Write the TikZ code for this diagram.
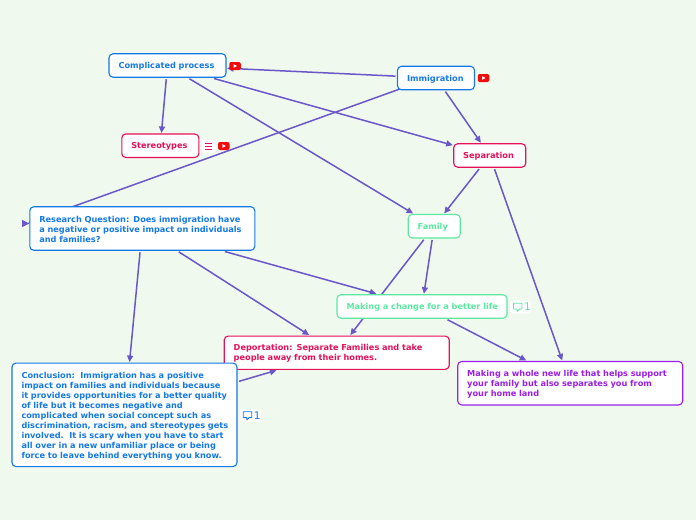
\documentclass[tikz,border=0pt]{standalone}
\usepackage{fontspec}
\setmainfont{DejaVu Sans}
\usetikzlibrary{arrows.meta}
\pgfdeclarelayer{bg}
\pgfsetlayers{bg,main}
\definecolor{canvas}{HTML}{EFF9EE}
\definecolor{edge}{HTML}{6A57C8}
\definecolor{cblue}{HTML}{1479E6}
\definecolor{cred}{HTML}{E6105A}
\definecolor{cgreen}{HTML}{5CE8A0}
\definecolor{cpurple}{HTML}{9A1FEA}
\definecolor{ytred}{HTML}{F50A0A}
\newcommand{\nohyphens}{\hyphenpenalty=10000\relax}
\tikzset{
  topic/.style={draw=#1,text=#1,fill=white,line width=1.1pt,rounded corners=4pt,
    inner xsep=9.5pt,inner ysep=0pt,outer sep=1pt,align=left,anchor=center,
    font=\bfseries\fontsize{8.2}{10}\selectfont\nohyphens,
    execute at begin node={\rule[-2.2pt]{0pt}{10.5pt}}},
  link/.style={draw=edge,line width=1.5pt,-{Triangle[length=6.5pt,width=6pt]},shorten <=1pt},
  plainlink/.style={draw=edge,line width=1.5pt},
  yt/.style={fill=ytred,rounded corners=2pt,minimum width=11.5pt,minimum height=8pt,inner sep=0pt},
  chip/.style={fill=white,rounded corners=2pt,inner sep=0pt},
  count/.style={font=\fontsize{10.5}{11}\selectfont,inner sep=0pt}
}
\newcommand{\playmark}[1]{\fill[white] ([xshift=-1.5pt,yshift=1.8pt]#1.center) -- ([xshift=2pt]#1.center) -- ([xshift=-1.5pt,yshift=-1.8pt]#1.center) -- cycle;}
\newcommand{\bubble}[2]{\draw[#2,line width=.8pt,line join=round] ([xshift=-7pt,yshift=3.7pt]#1.center) -- ([xshift=1.5pt,yshift=3.7pt]#1.center) -- ([xshift=1.5pt,yshift=-2pt]#1.center) -- ([xshift=-1pt,yshift=-2pt]#1.center) -- ([xshift=-3.5pt,yshift=-4.5pt]#1.center) -- ([xshift=-3.5pt,yshift=-2pt]#1.center) -- ([xshift=-7pt,yshift=-2pt]#1.center) -- cycle;}
\begin{document}
\begin{tikzpicture}[x=1pt,y=-1pt]
\useasboundingbox (0,0) rectangle (696,520);

\node[topic=cblue,text width=98pt,minimum height=23.5pt] (complicated) at (167.5,65.5) {Complicated process};
\node[topic=cred,text width=58pt,minimum height=23.5pt] (stereotypes) at (160.3,145.7) {Stereotypes};
\node[topic=cblue,text width=58pt,minimum height=23.5pt] (immigration) at (436,78) {Immigration};
\node[topic=cred,text width=53pt,minimum height=23.5pt] (separation) at (489.7,155.5) {Separation};
\node[topic=cblue,text width=206pt,minimum height=43.5pt] (question) at (142.3,228.5) {Research Question: Does immigration have\\a negative or positive impact on individuals\\and families?};
\node[topic=cgreen,text width=33pt,minimum height=23.5pt] (family) at (434.2,226.2) {Family};
\node[topic=cgreen,text width=151pt,minimum height=23.5pt] (change) at (422,306.5) {\mbox{Making a change for a better life}};
\node[topic=cred,text width=206pt,minimum height=33.3pt] (deportation) at (336.7,352.7) {Deportation: Separate Families and take\\people away from their homes.};
\node[topic=cpurple,text width=206pt,minimum height=43.5pt] (newlife) at (570.2,383.2) {Making a whole new life that helps support\\your family but also separates you from\\your home land};
\node[topic=cblue,text width=206pt,minimum height=103.5pt] (conclusion) at (124.5,414.8) {Conclusion:\ \ Immigration has a positive\\impact on families and individuals because\\it provides opportunities for a better quality\\of life but it becomes negative and\\complicated when social concept such as\\\mbox{discrimination, racism, and stereotypes gets}\\involved.\ \ It is scary when you have to start\\all over in a new unfamiliar place or being\\force to leave behind everything you know.};

\coordinate (questiontail) at (22,223.5);

% icons
\node[yt] (ytcomplicated) at (235,66) {};
\playmark{ytcomplicated}
\node[yt] (ytimmigration) at (483.5,78) {};
\playmark{ytimmigration}
\node[yt] (ytstereotypes) at (223.8,146) {};
\playmark{ytstereotypes}
\node[chip,minimum width=13.5pt,minimum height=12.5pt] (notes) at (208.5,146.3) {};
\draw[cred,line width=.8pt] ([xshift=-3.4pt,yshift=-3.4pt]notes.center) -- ([xshift=3.4pt,yshift=-3.4pt]notes.center)
  ([xshift=-3.4pt]notes.center) -- ([xshift=3.4pt]notes.center)
  ([xshift=-3.4pt,yshift=3.4pt]notes.center) -- ([xshift=3.4pt,yshift=3.4pt]notes.center);

\node[chip,minimum width=20.5pt,minimum height=12.5pt] (chipchange) at (520.5,307) {};
\bubble{chipchange}{cgreen}
\node[count,text=cgreen] (countchange) at ([xshift=7pt]chipchange.center) {1};
\node[chip,minimum width=20.5pt,minimum height=12.5pt] (chipconclusion) at (250.3,415.5) {};
\bubble{chipconclusion}{cblue}
\node[count,text=cblue] (countconclusion) at ([xshift=7pt]chipconclusion.center) {1};

\begin{pgfonlayer}{bg}
\fill[canvas] (0,0) rectangle (696,520);
\draw[link] (immigration) -- (complicated);
\draw[link] (complicated) -- (stereotypes);
\draw[link] (complicated) -- (separation);
\draw[link] (complicated) -- (family);
\draw[link] (immigration) -- (separation);
\draw[plainlink] ([yshift=2pt]immigration.center) -- ([yshift=6pt]question.west);
\draw[link] (separation) -- (family);
\draw[link] (separation) -- (newlife);
\draw[link] (family) -- (change);
\draw[link] (family) -- (deportation);
\draw[link] (question) -- (change);
\draw[link] (question) -- (deportation);
\draw[link] (question) -- (conclusion);
\draw[link] (change) -- (newlife);
\draw[link] (conclusion) -- (deportation);
\fill[edge] (questiontail) ++(0,-3.7) -- (29.5,223.5) -- (22,227.2) -- cycle;
\end{pgfonlayer}
\end{tikzpicture}
\end{document}
